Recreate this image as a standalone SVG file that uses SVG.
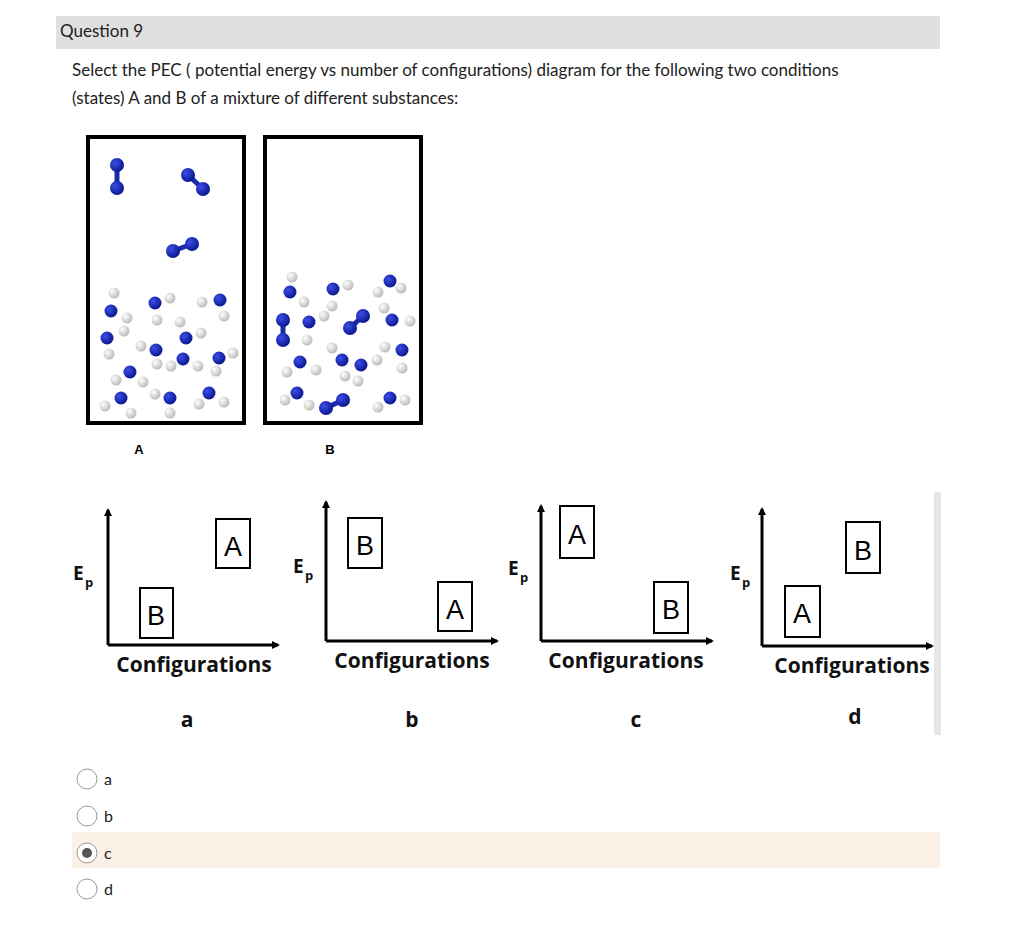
<svg xmlns="http://www.w3.org/2000/svg" width="1024" height="933" viewBox="0 0 1024 933">
<defs>
<radialGradient id="gn" cx="0.35" cy="0.35" r="0.7"><stop offset="0" stop-color="#3a4ee8"/><stop offset="1" stop-color="#0a148a"/></radialGradient>
<radialGradient id="gh" cx="0.35" cy="0.35" r="0.7"><stop offset="0" stop-color="#ffffff"/><stop offset="1" stop-color="#b8b8b8"/></radialGradient>
<marker id="arr" markerWidth="8" markerHeight="8" refX="6" refY="4" orient="auto" markerUnits="userSpaceOnUse"><path d="M0,0 L8,4 L0,8 Z" fill="#000"/></marker>
</defs>
<style>
.t{font-family:Lato,"Liberation Sans",sans-serif;fill:#222}
.bx{fill:#fff;stroke:#000;stroke-width:4}
.n{fill:url(#gn)}
.h{fill:url(#gh)}
.ax{stroke:#000;stroke-width:3;fill:none;marker-end:url(#arr)}
.lb{fill:#fff;stroke:#000;stroke-width:2}
.lt{font-family:"Liberation Sans",sans-serif;font-size:27px;text-anchor:middle;fill:#000}
.cf{font-family:"Open Sans","Liberation Sans",sans-serif;font-weight:bold;font-size:21px;text-anchor:middle;fill:#111}
.ep{font-family:"Open Sans","Liberation Sans",sans-serif;font-weight:bold;font-size:19px;fill:#111}
.ep2{font-family:"Open Sans","Liberation Sans",sans-serif;font-weight:bold;font-size:13px;fill:#111}
.bond{stroke:#1a2aa8;stroke-width:5}
.bh{stroke:#aaa;stroke-width:3}
.rad{fill:#fff;stroke:#999;stroke-width:1}
</style>
<rect x="56" y="16" width="884" height="33" fill="#e0e0e0"/>
<text class="t" x="60" y="37" font-size="17">Question 9</text>
<text class="t" x="72" y="76" font-size="17">Select the PEC ( potential energy vs number of configurations) diagram for the following two conditions</text>
<text class="t" x="72" y="104" font-size="17">(states) A and B of a mixture of different substances:</text>

<g id="boxA">
<rect class="bx" x="88" y="137" width="156" height="286"/>
<text x="139" y="454" font-family="Liberation Sans,sans-serif" font-weight="bold" font-size="13" text-anchor="middle">A</text>
</g>
<g id="boxB">
<rect class="bx" x="265" y="137" width="156" height="286"/>
<text x="330" y="454" font-family="Liberation Sans,sans-serif" font-weight="bold" font-size="13" text-anchor="middle">B</text>
</g>
<g id="molecules">
<g id="n2">
<line class="bond" x1="117" y1="165" x2="117" y2="188"/><circle class="n" cx="117" cy="165" r="7"/><circle class="n" cx="117" cy="188" r="7"/>
<line class="bond" x1="188" y1="175" x2="203" y2="189"/><circle class="n" cx="188" cy="175" r="7"/><circle class="n" cx="203" cy="189" r="7"/>
<line class="bond" x1="173" y1="251" x2="192" y2="244"/><circle class="n" cx="173" cy="251" r="7"/><circle class="n" cx="192" cy="244" r="7"/>
<line class="bond" x1="283" y1="320" x2="283" y2="340"/><circle class="n" cx="283" cy="320" r="7"/><circle class="n" cx="283" cy="340" r="7"/>
<line class="bond" x1="350" y1="328" x2="363" y2="316"/><circle class="n" cx="350" cy="328" r="7"/><circle class="n" cx="363" cy="316" r="7"/>
<line class="bond" x1="326" y1="408" x2="343" y2="400"/><circle class="n" cx="326" cy="408" r="7"/><circle class="n" cx="343" cy="400" r="7"/>
</g>
<g id="nh3">
<g><circle class="h" cx="114" cy="293" r="5.5"/><circle class="h" cx="127" cy="318" r="5.5"/><circle class="n" cx="111" cy="311" r="6.5"/></g>
<g><circle class="h" cx="170" cy="298" r="5.5"/><circle class="h" cx="157" cy="320" r="5.5"/><circle class="n" cx="155" cy="303" r="6.5"/></g>
<g><circle class="h" cx="202" cy="302" r="5.5"/><circle class="h" cx="224" cy="316" r="5.5"/><circle class="n" cx="220" cy="300" r="6.5"/></g>
<g><circle class="h" cx="124" cy="331" r="5.5"/><circle class="h" cx="109" cy="354" r="5.5"/><circle class="n" cx="107" cy="338" r="6.5"/></g>
<g><circle class="h" cx="180" cy="322" r="5.5"/><circle class="h" cx="201" cy="333" r="5.5"/><circle class="n" cx="186" cy="338" r="6.5"/></g>
<g><circle class="h" cx="141" cy="346" r="5.5"/><circle class="h" cx="157" cy="364" r="5.5"/><circle class="n" cx="156" cy="350" r="6.5"/></g>
<g><circle class="h" cx="171" cy="366" r="5.5"/><circle class="h" cx="198" cy="366" r="5.5"/><circle class="n" cx="183" cy="359" r="6.5"/></g>
<g><circle class="h" cx="233" cy="353" r="5.5"/><circle class="h" cx="216" cy="371" r="5.5"/><circle class="n" cx="219" cy="358" r="6.5"/></g>
<g><circle class="h" cx="116" cy="380" r="5.5"/><circle class="h" cx="143" cy="382" r="5.5"/><circle class="n" cx="130" cy="372" r="6.5"/></g>
<g><circle class="h" cx="105" cy="406" r="5.5"/><circle class="h" cx="131" cy="413" r="5.5"/><circle class="n" cx="121" cy="398" r="6.5"/></g>
<g><circle class="h" cx="155" cy="394" r="5.5"/><circle class="h" cx="170" cy="413" r="5.5"/><circle class="n" cx="170" cy="398" r="6.5"/></g>
<g><circle class="h" cx="199" cy="404" r="5.5"/><circle class="h" cx="224" cy="402" r="5.5"/><circle class="n" cx="209" cy="393" r="6.5"/></g>
<g><circle class="h" cx="292" cy="277" r="5.5"/><circle class="h" cx="304" cy="302" r="5.5"/><circle class="n" cx="290" cy="292" r="6.5"/></g>
<g><circle class="h" cx="348" cy="285" r="5.5"/><circle class="h" cx="332" cy="306" r="5.5"/><circle class="n" cx="333" cy="289" r="6.5"/></g>
<g><circle class="h" cx="378" cy="292" r="5.5"/><circle class="h" cx="401" cy="288" r="5.5"/><circle class="n" cx="390" cy="281" r="6.5"/></g>
<g><circle class="h" cx="324" cy="316" r="5.5"/><circle class="h" cx="307" cy="340" r="5.5"/><circle class="n" cx="309" cy="322" r="6.5"/></g>
<g><circle class="h" cx="384" cy="308" r="5.5"/><circle class="h" cx="410" cy="321" r="5.5"/><circle class="n" cx="392" cy="320" r="6.5"/></g>
<g><circle class="h" cx="287" cy="372" r="5.5"/><circle class="h" cx="316" cy="370" r="5.5"/><circle class="n" cx="300" cy="362" r="6.5"/></g>
<g><circle class="h" cx="332" cy="348" r="5.5"/><circle class="h" cx="345" cy="376" r="5.5"/><circle class="n" cx="342" cy="360" r="6.5"/></g>
<g><circle class="h" cx="377" cy="360" r="5.5"/><circle class="h" cx="358" cy="381" r="5.5"/><circle class="n" cx="361" cy="365" r="6.5"/></g>
<g><circle class="h" cx="385" cy="347" r="5.5"/><circle class="h" cx="402" cy="368" r="5.5"/><circle class="n" cx="402" cy="350" r="6.5"/></g>
<g><circle class="h" cx="285" cy="400" r="5.5"/><circle class="h" cx="309" cy="405" r="5.5"/><circle class="n" cx="297" cy="393" r="6.5"/></g>
<g><circle class="h" cx="378" cy="407" r="5.5"/><circle class="h" cx="405" cy="400" r="5.5"/><circle class="n" cx="390" cy="398" r="6.5"/></g>
</g>
</g>

<g id="graph-a">
<path class="ax" d="M108,645 V510"/><path class="ax" d="M108,645 H278"/>
<text class="ep" x="73" y="580">E</text><text class="ep2" x="85" y="587">p</text>
<rect class="lb" x="216" y="519" width="34" height="49"/><text class="lt" x="233" y="556">A</text>
<rect class="lb" x="140" y="588" width="33" height="50"/><text class="lt" x="156" y="625">B</text>
<text class="cf" x="194" y="672">Configurations</text>
<text class="cf" x="187" y="727">a</text>
</g>
<g id="graph-b">
<path class="ax" d="M326,641 V502"/><path class="ax" d="M326,641 H497"/>
<text class="ep" x="293" y="573">E</text><text class="ep2" x="305" y="580">p</text>
<rect class="lb" x="348" y="518" width="34" height="50"/><text class="lt" x="365" y="555">B</text>
<rect class="lb" x="438" y="582" width="34" height="49"/><text class="lt" x="455" y="619">A</text>
<text class="cf" x="412" y="668">Configurations</text>
<text class="cf" x="412" y="727">b</text>
</g>
<g id="graph-c">
<path class="ax" d="M541,641 V506"/><path class="ax" d="M541,641 H712"/>
<text class="ep" x="508" y="575">E</text><text class="ep2" x="520" y="582">p</text>
<rect class="lb" x="560" y="506" width="34" height="52"/><text class="lt" x="577" y="544">A</text>
<rect class="lb" x="654" y="582" width="34" height="51"/><text class="lt" x="671" y="619">B</text>
<text class="cf" x="626" y="668">Configurations</text>
<text class="cf" x="636" y="727">c</text>
</g>
<g id="graph-d">
<path class="ax" d="M762,646 V509"/><path class="ax" d="M762,646 H932"/>
<text class="ep" x="730" y="580">E</text><text class="ep2" x="742" y="587">p</text>
<rect class="lb" x="846" y="522" width="34" height="51"/><text class="lt" x="863" y="560">B</text>
<rect class="lb" x="785" y="586" width="35" height="51"/><text class="lt" x="802" y="623">A</text>
<text class="cf" x="852" y="673">Configurations</text>
<text class="cf" x="855" y="724">d</text>
</g>
<rect x="934" y="492" width="7" height="243" fill="#e6e6e6"/>

<g id="options">
<rect x="72" y="832" width="868" height="36" fill="#fbf0e6"/>
<circle class="rad" cx="87" cy="779" r="10"/><text class="t" x="104" y="785" font-size="16">a</text>
<circle class="rad" cx="87" cy="816" r="10"/><text class="t" x="104" y="822" font-size="16">b</text>
<circle class="rad" cx="87" cy="853" r="10"/><circle cx="87" cy="853" r="5" fill="#555"/><text class="t" x="104" y="859" font-size="16">c</text>
<circle class="rad" cx="87" cy="889" r="10"/><text class="t" x="104" y="895" font-size="16">d</text>
</g>
</svg>
